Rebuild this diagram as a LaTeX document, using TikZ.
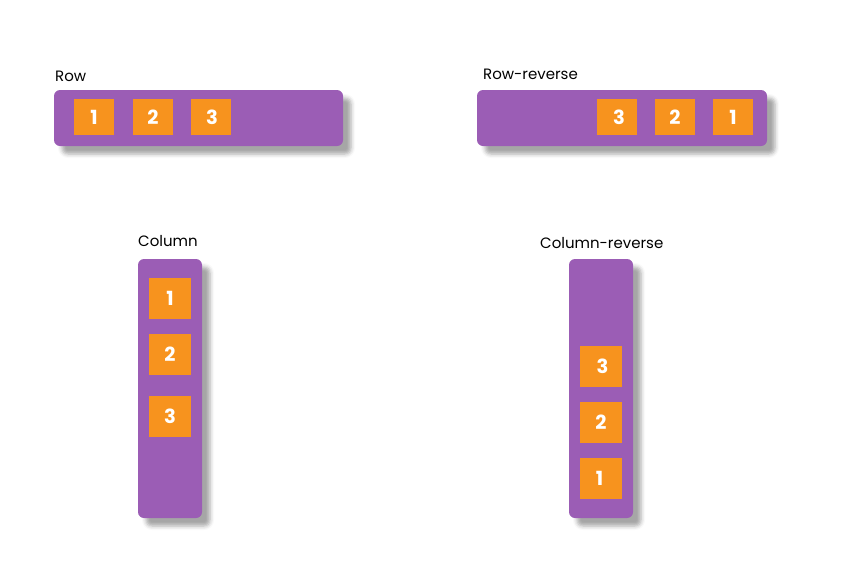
\documentclass[tikz,border=0pt]{standalone}
\usepackage{fontspec}
\setmainfont{Poppins}
\newfontfamily\numfont{Poppins}[UprightFont=* Bold]
\usetikzlibrary{shadows.blur}
\definecolor{barpurple}{RGB}{155,93,181}
\definecolor{itemorange}{RGB}{247,147,30}
\tikzset{
  bar/.style={fill=barpurple, draw=none, rounded corners=6pt, inner sep=0pt,
    blur shadow={shadow xshift=8pt, shadow yshift=-8pt, shadow blur radius=4pt, shadow opacity=35}},
  item/.style={fill=itemorange, draw=none, inner sep=0pt, text=white,
    font=\numfont\fontsize{19.5}{19.5}\selectfont},
  hitem/.style={item, minimum width=40pt, minimum height=36pt},
  vitem/.style={item, minimum width=42pt, minimum height=41pt},
  lbl/.style={anchor=west, inner sep=0pt, font=\fontsize{15}{15}\selectfont}
}
\begin{document}
\begin{tikzpicture}[x=1pt,y=-1pt]
\useasboundingbox (0,0) rectangle (866,568);
% Row
\node[lbl] (lrow) at (55,76) {Row};
\node[bar, minimum width=289pt, minimum height=56pt] (brow) at (198.5,118) {};
\node[hitem] (r1) at (94,117) {1};
\node[hitem] (r2) at (153,117) {2};
\node[hitem] (r3) at (211,117) {\hspace*{2pt}3};
% Row-reverse
\node[lbl] (lrr) at (483,74) {Row-reverse};
\node[bar, minimum width=290pt, minimum height=56pt] (brr) at (622,118) {};
\node[hitem] (rr3) at (617,117) {\hspace*{4pt}3};
\node[hitem] (rr2) at (675,117) {2};
\node[hitem] (rr1) at (733,117) {1};
% Column
\node[lbl] (lcol) at (138,241) {Column};
\node[bar, minimum width=64pt, minimum height=259pt] (bcol) at (170,388.5) {};
\node[vitem] (c1) at (170,298.5) {1};
\node[vitem] (c2) at (170,354.5) {2};
\node[vitem] (c3) at (170,416.5) {3};
% Column-reverse
\node[lbl] (lcr) at (540,243) {Column-reverse};
\node[bar, minimum width=64pt, minimum height=259pt] (bcr) at (601,388.5) {};
\node[vitem] (cr3) at (601,366.5) {\hspace*{3pt}3};
\node[vitem] (cr2) at (601,422.5) {2};
\node[vitem] (cr1) at (601,478.5) {\hspace*{-3pt}1};
\end{tikzpicture}
\end{document}
